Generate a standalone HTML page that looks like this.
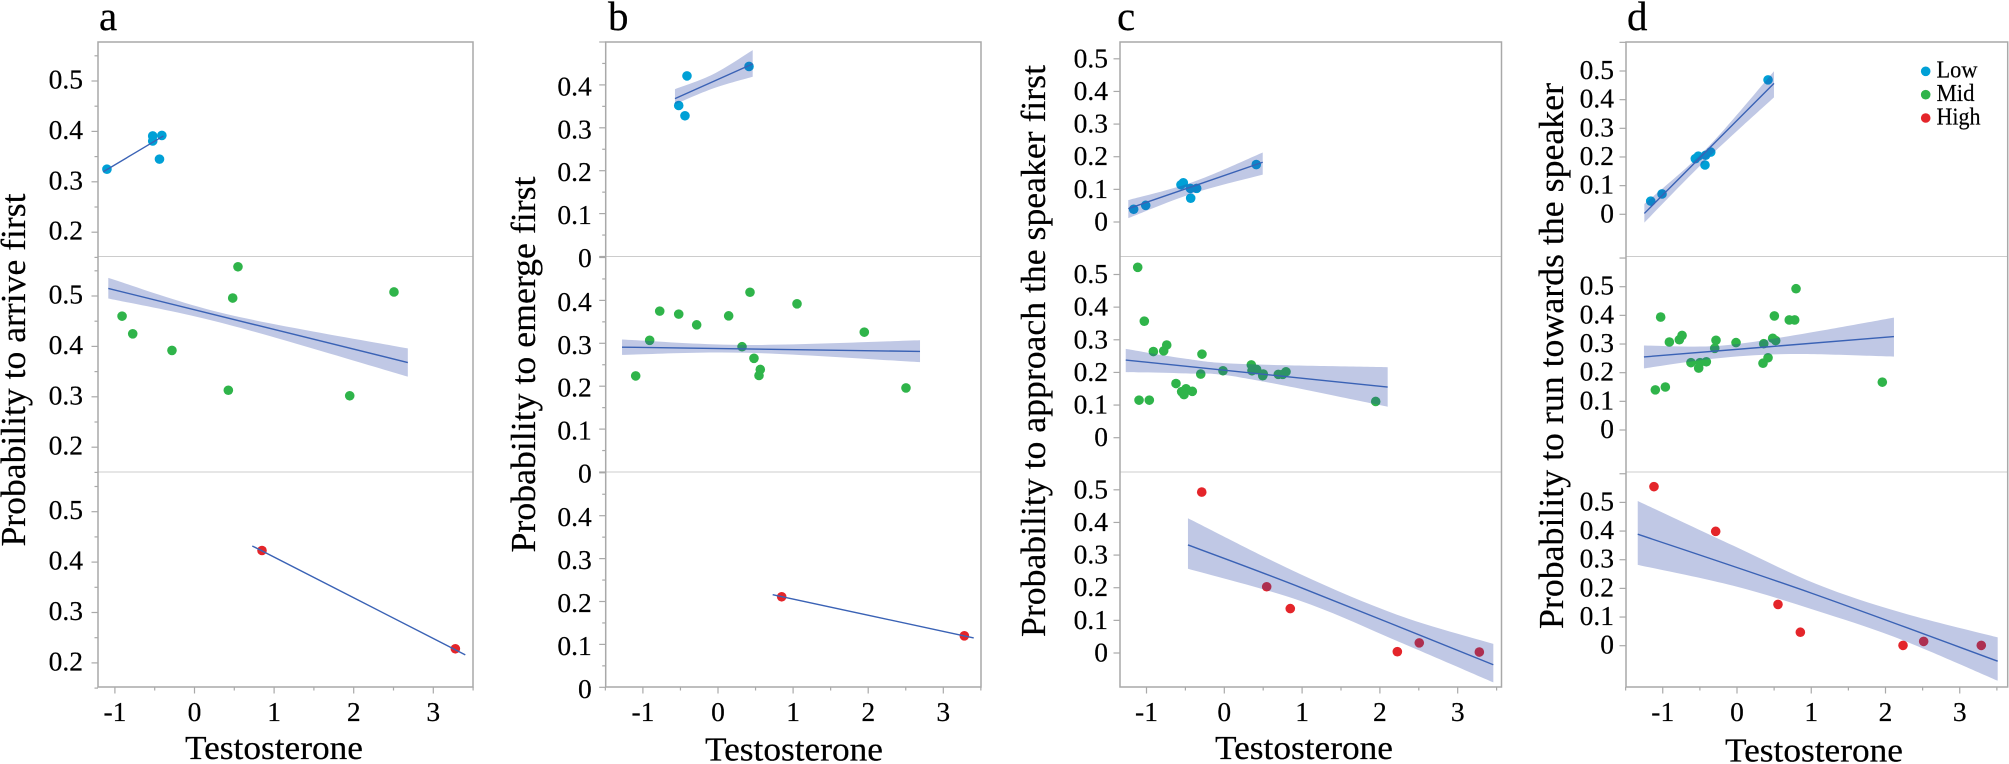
<!DOCTYPE html>
<html lang="en">
<head>
<meta charset="utf-8">
<title>Probability by testosterone</title>
<style>
html,body{margin:0;padding:0;background:#fff;}
svg{display:block;font-family:"Liberation Serif",serif;fill:#000;}
text{stroke:#000;stroke-width:0.2px;}
.tick{font-size:27.5px;}
.xtitle{font-size:34px;text-anchor:middle;}
.ytitle{font-size:35px;text-anchor:middle;}
.letter{font-size:41px;}
.legend-text{font-size:24px;}
</style>
</head>
<body>
<svg id="chart" xmlns="http://www.w3.org/2000/svg" width="2009" height="764" viewBox="0 0 2009 764">
  <text class="letter" x="99" y="30">a</text>
  <text class="letter" x="608" y="30">b</text>
  <text class="letter" x="1117" y="30">c</text>
  <text class="letter" x="1627" y="30">d</text>

  <text class="ytitle" transform="translate(25,370) rotate(-90)" textLength="353" lengthAdjust="spacingAndGlyphs">Probability to arrive first</text>
  <text class="ytitle" transform="translate(535,364.5) rotate(-90)" textLength="376" lengthAdjust="spacingAndGlyphs">Probability to emerge first</text>
  <text class="ytitle" transform="translate(1045,351) rotate(-90)" textLength="572" lengthAdjust="spacingAndGlyphs">Probability to approach the speaker first</text>
  <text class="ytitle" transform="translate(1563,356) rotate(-90)" textLength="546" lengthAdjust="spacingAndGlyphs">Probability to run towards the speaker</text>

  <text class="xtitle" x="274" y="759" textLength="178" lengthAdjust="spacingAndGlyphs">Testosterone</text>
  <text class="xtitle" x="794" y="760.5" textLength="178" lengthAdjust="spacingAndGlyphs">Testosterone</text>
  <text class="xtitle" x="1304" y="759" textLength="178" lengthAdjust="spacingAndGlyphs">Testosterone</text>
  <text class="xtitle" x="1814" y="761.5" textLength="178" lengthAdjust="spacingAndGlyphs">Testosterone</text>

  <g id="plots"></g>

  <g>
    <g>
      <circle cx="1925.7" cy="71.3" r="4.8" fill="#00a0d6"></circle>
      <text class="legend-text" x="1936.5" y="77.7" textLength="41" lengthAdjust="spacingAndGlyphs">Low</text>
    </g>
    <g>
      <circle cx="1925.7" cy="94.7" r="4.8" fill="#2fb44a"></circle>
      <text class="legend-text" x="1936.5" y="101" textLength="38" lengthAdjust="spacingAndGlyphs">Mid</text>
    </g>
    <g>
      <circle cx="1925.7" cy="118" r="4.8" fill="#e4252a"></circle>
      <text class="legend-text" x="1936.5" y="124.3" textLength="44" lengthAdjust="spacingAndGlyphs">High</text>
    </g>
  </g>
</svg>

<script>
// ---------- tick labels ----------
const xTickLabels = ['-1', '0', '1', '2', '3'];
const xTickValues = [-1, 0, 1, 2, 3];
const aYTickValues = [0.5, 0.4, 0.3, 0.2];
const aYTickLabels = ['0.5', '0.4', '0.3', '0.2'];
const bYTickValues = [0.4, 0.3, 0.2, 0.1, 0];
const bYTickLabels = ['0.4', '0.3', '0.2', '0.1', '0'];
const cdYTickValues = [0.5, 0.4, 0.3, 0.2, 0.1, 0];
const cdYTickLabels = ['0.5', '0.4', '0.3', '0.2', '0.1', '0'];

// ---------- panel a ----------
const aLowX = [-1.10, -0.525, -0.525, -0.41, -0.44];
const aLowY = [0.325, 0.391, 0.381, 0.392, 0.345];
const aLowFitX = [-1.146, -0.39];
const aLowFitY = [0.320, 0.391];
const aMidX = [0.546, 0.48, -0.91, -0.776, -0.283, 0.425, 1.95, 2.506];
const aMidY = [0.558, 0.496, 0.46, 0.425, 0.392, 0.313, 0.302, 0.508];
const aMidFitX = [-1.083, 2.68];
const aMidFitY = [0.515, 0.368];
const aMidBandX = [-1.083, 0.405, 2.68];
const aMidBandHi = [0.536, 0.464, 0.396];
const aMidBandLo = [0.495, 0.444, 0.34];
const aHighX = [0.848, 3.277];
const aHighY = [0.423, 0.228];
const aHighFitX = [0.726, 3.402];
const aHighFitY = [0.432, 0.216];

// ---------- panel b ----------
const bLowX = [-0.413, -0.523, -0.44, 0.413];
const bLowY = [0.421, 0.352, 0.328, 0.443];
const bLowFitX = [-0.573, 0.462];
const bLowFitY = [0.368, 0.449];
const bLowBandX = [-0.573, -0.062, 0.462];
const bLowBandHi = [0.39, 0.425, 0.481];
const bLowBandLo = [0.355, 0.392, 0.419];
const bMidX = [-1.096, -0.91, -0.776, -0.523, -0.284, 0.142, 0.32, 0.426, 0.479, 0.563, 0.546, 1.052, 1.948, 2.503];
const bMidY = [0.224, 0.307, 0.375, 0.368, 0.343, 0.364, 0.292, 0.419, 0.265, 0.239, 0.225, 0.392, 0.326, 0.196];
const bMidFitX = [-1.278, 2.69];
const bMidFitY = [0.291, 0.281];
const bMidBandX = [-1.278, 0.382, 2.69];
const bMidBandHi = [0.309, 0.296, 0.307];
const bMidBandLo = [0.273, 0.278, 0.256];
const bHighX = [0.848, 3.28];
const bHighY = [0.211, 0.12];
const bHighFitX = [0.728, 3.405];
const bHighFitY = [0.216, 0.115];

// ---------- panel c ----------
const cLowX = [-1.165, -1.01, -0.557, -0.527, -0.437, -0.432, -0.355, 0.411];
const cLowY = [0.039, 0.051, 0.114, 0.12, 0.103, 0.073, 0.103, 0.176];
const cLowFitX = [-1.234, 0.494];
const cLowFitY = [0.041, 0.183];
const cLowBandX = [-1.234, -0.398, 0.494];
const cLowBandHi = [0.067, 0.123, 0.213];
const cLowBandLo = [0.012, 0.088, 0.145];
const cMidX = [-1.113, -1.028, -0.912, -0.779, -0.74, -1.096, -0.964, -0.621, -0.492, -0.548, -0.518, -0.411, -0.303, -0.287, -0.017, 0.347, 0.356, 0.416, 0.501, 0.494, 0.694, 0.751, 0.793, 1.946];
const cMidY = [0.522, 0.357, 0.264, 0.266, 0.284, 0.115, 0.115, 0.166, 0.15, 0.141, 0.132, 0.142, 0.195, 0.256, 0.205, 0.223, 0.205, 0.209, 0.195, 0.19, 0.194, 0.194, 0.202, 0.111];
const cMidFitX = [-1.267, 2.1];
const cMidFitY = [0.238, 0.155];
const cMidBandX = [-1.267, -0.527, 0.2, 2.1];
const cMidBandHi = [0.272, 0.243, 0.226, 0.216];
const cMidBandLo = [0.201, 0.197, 0.185, 0.095];
const cHighX = [-0.29, 0.545, 0.848, 2.224, 2.506, 3.278];
const cHighY = [0.493, 0.203, 0.136, 0.004, 0.031, 0.003];
const cHighFitX = [-0.467, 0.999, 3.458];
const cHighFitY = [0.331, 0.199, -0.036];
const cHighBandX = [-0.467, 0.973, 2.258, 3.458];
const cHighBandHi = [0.413, 0.242, 0.114, 0.028];
const cHighBandLo = [0.258, 0.16, 0.033, -0.09];

// ---------- panel d ----------
const dLowX = [-1.162, -1.01, -0.561, -0.521, -0.422, -0.431, -0.354, 0.418];
const dLowY = [0.046, 0.071, 0.194, 0.203, 0.206, 0.172, 0.217, 0.469];
const dLowFitX = [-1.248, 0.498];
const dLowFitY = [0.003, 0.457];
const dLowBandX = [-1.248, -0.408, 0.498];
const dLowBandHi = [0.036, 0.23, 0.499];
const dLowBandLo = [-0.029, 0.192, 0.408];
const dMidX = [-1.1, -0.965, -1.028, -0.911, -0.777, -0.74, -0.62, -0.516, -0.498, -0.413, -0.3, -0.283, -0.013, 0.36, 0.35, 0.418, 0.481, 0.521, 0.503, 0.704, 0.777, 0.795, 1.957];
const dMidY = [0.14, 0.15, 0.394, 0.307, 0.315, 0.33, 0.235, 0.216, 0.235, 0.238, 0.285, 0.313, 0.305, 0.301, 0.233, 0.252, 0.32, 0.312, 0.398, 0.384, 0.384, 0.493, 0.167];
const dMidFitX = [-1.253, 2.114];
const dMidFitY = [0.255, 0.326];
const dMidBandX = [-1.253, -0.274, 0.714, 2.114];
const dMidBandHi = [0.295, 0.293, 0.328, 0.392];
const dMidBandLo = [0.215, 0.25, 0.265, 0.256];
const dHighX = [-1.118, -0.287, 0.552, 0.853, 2.236, 2.514, 3.29];
const dHighY = [0.555, 0.399, 0.144, 0.047, 0.001, 0.015, 0.001];
const dHighFitX = [-1.337, 1.006, 3.511];
const dHighFitY = [0.389, 0.183, -0.054];
const dHighBandX = [-1.337, -0.05, 1.073, 2.195, 3.511];
const dHighBandHi = [0.505, 0.349, 0.215, 0.117, 0.029];
const dHighBandLo = [0.282, 0.209, 0.122, 0.023, -0.122];

// ---------- layout (axis calibration only) ----------
const NS = 'http://www.w3.org/2000/svg';
const frameTop = 42, frameBottom = 687, rowEdges = [42, 256.5, 472, 687];
const seriesColors = { low: '#00a0d6', mid: '#2fb44a', high: '#e4252a' };
const panels = [
  { id: 'a', left: 98, right: 473, x0: 194.5, ux: 79.6, uy: 504, zeros: [333, 548, 763.7], minor: true, labelDy: 7.5, labelGap: 15,
    yVals: aYTickValues, yLabels: aYTickLabels,
    low: { x: aLowX, y: aLowY, fx: aLowFitX, fy: aLowFitY },
    mid: { x: aMidX, y: aMidY, fx: aMidFitX, fy: aMidFitY, bx: aMidBandX, hi: aMidBandHi, lo: aMidBandLo },
    high: { x: aHighX, y: aHighY, fx: aHighFitX, fy: aHighFitY } },
  { id: 'b', left: 605.7, right: 981, x0: 718, ux: 75.1, uy: 429, zeros: [256.5, 472, 687.3], minor: true, labelDy: 10.5, labelGap: 14,
    yVals: bYTickValues, yLabels: bYTickLabels,
    low: { x: bLowX, y: bLowY, fx: bLowFitX, fy: bLowFitY, bx: bLowBandX, hi: bLowBandHi, lo: bLowBandLo },
    mid: { x: bMidX, y: bMidY, fx: bMidFitX, fy: bMidFitY, bx: bMidBandX, hi: bMidBandHi, lo: bMidBandLo },
    high: { x: bHighX, y: bHighY, fx: bHighFitX, fy: bHighFitY } },
  { id: 'c', left: 1120, right: 1501.5, x0: 1224.3, ux: 77.8, uy: 326.4, zeros: [222, 437.7, 653], minor: false, labelDy: 8.5, labelGap: 12,
    yVals: cdYTickValues, yLabels: cdYTickLabels,
    low: { x: cLowX, y: cLowY, fx: cLowFitX, fy: cLowFitY, bx: cLowBandX, hi: cLowBandHi, lo: cLowBandLo },
    mid: { x: cMidX, y: cMidY, fx: cMidFitX, fy: cMidFitY, bx: cMidBandX, hi: cMidBandHi, lo: cMidBandLo },
    high: { x: cHighX, y: cHighY, fx: cHighFitX, fy: cHighFitY, bx: cHighBandX, hi: cHighBandHi, lo: cHighBandLo } },
  { id: 'd', left: 1626, right: 2007.7, x0: 1737, ux: 74.25, uy: 286.6, zeros: [214.3, 430, 645.7], minor: false, labelDy: 8, labelGap: 12,
    yVals: cdYTickValues, yLabels: cdYTickLabels,
    low: { x: dLowX, y: dLowY, fx: dLowFitX, fy: dLowFitY, bx: dLowBandX, hi: dLowBandHi, lo: dLowBandLo },
    mid: { x: dMidX, y: dMidY, fx: dMidFitX, fy: dMidFitY, bx: dMidBandX, hi: dMidBandHi, lo: dMidBandLo },
    high: { x: dHighX, y: dHighY, fx: dHighFitX, fy: dHighFitY, bx: dHighBandX, hi: dHighBandHi, lo: dHighBandLo } }
];

function make(tag, attrs, parent) {
  const node = document.createElementNS(NS, tag);
  for (const k in attrs) node.setAttribute(k, attrs[k]);
  parent.appendChild(node);
  return node;
}

// smooth Catmull-Rom segments through a list of [x, y] pixel pairs
function smoothSegments(pts) {
  let d = '';
  for (let i = 0; i < pts.length - 1; i++) {
    const p0 = pts[Math.max(i - 1, 0)], p1 = pts[i], p2 = pts[i + 1], p3 = pts[Math.min(i + 2, pts.length - 1)];
    const c1x = p1[0] + (p2[0] - p0[0]) / 6, c1y = p1[1] + (p2[1] - p0[1]) / 6;
    const c2x = p2[0] - (p3[0] - p1[0]) / 6, c2y = p2[1] - (p3[1] - p1[1]) / 6;
    d += 'C' + c1x.toFixed(2) + ' ' + c1y.toFixed(2) + ' ' + c2x.toFixed(2) + ' ' + c2y.toFixed(2) + ' ' + p2[0].toFixed(2) + ' ' + p2[1].toFixed(2);
  }
  return d;
}

const plotsRoot = document.getElementById('plots');

panels.forEach(function (p) {
  const g = make('g', {}, plotsRoot);
  
  

  const xScale = function (v) { return p.x0 + v * p.ux; };
  const yScale = function (v, row) { return p.zeros[row] - v * p.uy; };

  // series, row by row
  ['low', 'mid', 'high'].forEach(function (level, row) {
    const s = p[level];
    const sg = make('g', {}, g);
    
    

    s.x.forEach(function (xv, i) {
      const c = make('circle', { cx: xScale(xv).toFixed(2), cy: yScale(s.y[i], row).toFixed(2), r: 4.8, fill: seriesColors[level] }, sg);
      
      
    });

    if (s.bx) {
      const upper = s.bx.map(function (xv, i) { return [xScale(xv), yScale(s.hi[i], row)]; });
      const lower = s.bx.map(function (xv, i) { return [xScale(xv), yScale(s.lo[i], row)]; }).reverse();
      const bandPath = 'M' + upper[0][0].toFixed(2) + ' ' + upper[0][1].toFixed(2) + smoothSegments(upper) +
        'L' + lower[0][0].toFixed(2) + ' ' + lower[0][1].toFixed(2) + smoothSegments(lower) + 'Z';
      const band = make('path', { d: bandPath, fill: '#2f49a8', 'fill-opacity': 0.3 }, sg);
      
      
    }

    const fitPts = s.fx.map(function (xv, i) { return [xScale(xv), yScale(s.fy[i], row)]; });
    const fitPath = 'M' + fitPts[0][0].toFixed(2) + ' ' + fitPts[0][1].toFixed(2) + smoothSegments(fitPts);
    const fit = make('path', { d: fitPath, fill: 'none', stroke: '#3a62b5', 'stroke-width': 1.4 }, sg);
    
    
  });

  // row dividers
  [[1, '#cccccc', 1], [2, '#dedede', 1.6]].forEach(function (d) {
    const line = make('line', { x1: p.left, x2: p.right, y1: rowEdges[d[0]], y2: rowEdges[d[0]], stroke: d[1], 'stroke-width': d[2] }, g);
    
    
  });

  // frame
  const frame = make('rect', { x: p.left, y: frameTop, width: p.right - p.left, height: frameBottom - frameTop, fill: 'none', stroke: '#a9a9a9', 'stroke-width': 1.5 }, g);
  
  

  // y axis ticks and labels
  p.zeros.forEach(function (zero, row) {
    const step = p.minor ? 5 : 10;
    for (let k = 0; k <= 70; k += step) {
      const val = k / 100;
      const py = yScale(val, row);
      if (py < rowEdges[row] - 1.6 || py > rowEdges[row + 1] + 1.6) continue;
      const isMajor = k % 10 === 0;
      const tick = make('line', { x1: p.left - (isMajor ? 6.5 : 3.5), x2: p.left, y1: py.toFixed(2), y2: py.toFixed(2), stroke: '#a9a9a9', 'stroke-width': 1.2 }, g);
      
      
    }
    p.yVals.forEach(function (v, i) {
      const t = make('text', { class: 'tick', x: p.left - p.labelGap, y: (yScale(v, row) + p.labelDy).toFixed(2), 'text-anchor': 'end' }, g);
      
      
      t.textContent = p.yLabels[i];
    });
  });

  // x axis ticks and labels
  for (let k = -3; k <= 7; k++) {
    const px = xScale(k / 2);
    if (px < p.left - 0.8 || px > p.right + 0.8) continue;
    const isMajor = k % 2 === 0 && k >= -2 && k <= 6;
    const tick = make('line', { x1: px.toFixed(2), x2: px.toFixed(2), y1: frameBottom, y2: frameBottom + (isMajor ? 6.5 : 3.5), stroke: '#a9a9a9', 'stroke-width': 1.2 }, g);
    
    
  }
  xTickValues.forEach(function (v, i) {
    const t = make('text', { class: 'tick', x: xScale(v).toFixed(2), y: 721, 'text-anchor': 'middle' }, g);
    
    
    t.textContent = xTickLabels[i];
  });
});
</script>
</body>
</html>
